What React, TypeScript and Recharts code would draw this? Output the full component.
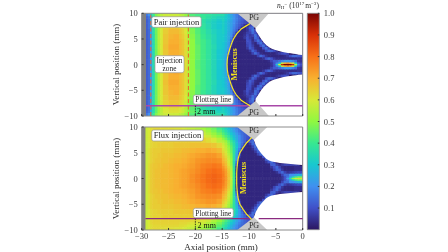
import React from "react";
import { ComposedChart, Scatter, Area, Line, XAxis, YAxis, ReferenceArea, ReferenceLine } from "recharts";

const W = 448, H = 252;
const LEFT = 141.7, RIGHT = 302.7;
const PANEL_A = { top: 13.3, bottom: 116 };
const PANEL_B = { top: 127, bottom: 230 };
const FONT = "'Liberation Serif', serif";

const xTicks = [-30, -25, -20, -15, -10, -5, 0];
const yTicks = [-10, -5, 0, 5, 10];
const barTicks = [0.1, 0.2, 0.3, 0.4, 0.5, 0.6, 0.7, 0.8, 0.9, 1.0];

const colorStops = ["#2c1660", "#4050c8", "#4090f0", "#18c8d0", "#38e890", "#90f840", "#d8e838", "#f8b030", "#f87018", "#d83008", "#7a0403"];

// cell edges (mm); the rows hold the upper half of each panel, the lower half mirrors it
const leftEdges = [-30, -29.2, -28.8, -28.4, -28, -27.5, -27, -26.5, -26, -25, -24, -23, -22.5, -22, -21.5, -21, -20, -19, -18, -17, -16, -15];
const leftRowEdges = [0, 1, 2, 3, 4, 5, 6, 7, 8, 8.5, 9, 9.5, 10];
const rightEdges = [-15, -14.5, -14, -13.5, -13, -12.5, -12, -11.5, -11, -10.5, -10, -9.5, -9, -8.5, -8, -7.5, -7, -6.5, -6, -5.5, -5, -4.5, -4, -3.5, -3, -2.5, -2, -1.5, -1, -0.5, 0];
const rightRowEdges = [0, 0.2, 0.5, 1, 1.5, 2, 2.5, 3, 3.5, 4, 4.5, 5, 5.5, 6, 6.5, 7, 7.5, 8, 8.5, 9, 9.5, 10];

const pairLeft = [
  [12, 12, 14, 22, 35, 46, 55, 60, 66, 70, 70, 68, 66, 62, 56, 50, 44, 41, 38, 34, 30],
  [12, 12, 14, 22, 35, 46, 55, 60, 66, 70, 71, 69, 66, 62, 56, 50, 45, 41, 38, 34, 30],
  [12, 12, 14, 22, 35, 46, 55, 60, 66, 70, 70, 68, 66, 62, 56, 50, 45, 41, 38, 34, 30],
  [12, 12, 14, 22, 35, 46, 55, 60, 67, 71, 71, 68, 66, 62, 56, 50, 45, 41, 38, 35, 31],
  [12, 12, 14, 23, 35, 46, 55, 60, 66, 70, 70, 68, 66, 62, 56, 50, 44, 41, 38, 34, 31],
  [12, 12, 14, 23, 35, 46, 55, 60, 66, 69, 70, 67, 65, 61, 55, 49, 44, 40, 37, 34, 31],
  [12, 12, 14, 23, 36, 46, 55, 60, 65, 68, 68, 66, 64, 60, 54, 48, 43, 39, 36, 33, 31],
  [12, 12, 15, 24, 36, 46, 54, 59, 64, 66, 66, 64, 62, 58, 52, 46, 42, 38, 35, 32, 30],
  [12, 12, 15, 24, 36, 45, 53, 57, 62, 64, 64, 62, 60, 56, 50, 45, 41, 37, 34, 32, 30],
  [12, 12, 15, 24, 36, 45, 52, 56, 60, 62, 62, 60, 58, 54, 49, 44, 41, 37, 35, 33, 31],
  [13, 13, 16, 25, 36, 45, 52, 56, 60, 61, 61, 60, 58, 54, 49, 45, 42, 39, 37, 35, 33],
  [15, 16, 20, 30, 40, 48, 53, 56, 58, 58, 58, 56, 54, 50, 46, 43, 41, 39, 38, 37, 36],
];
const pairRight = [
  [28, 22, 3, 3, 3, 3, 3, 3, 3, 3, 3, 3, 3, 3, 3, 3, 3, 3, 5, 10, 28, 60, 92, 100, 100, 100, 92, 55, 18, 10],
  [28, 22, 3, 3, 3, 3, 3, 3, 3, 3, 3, 3, 3, 3, 3, 3, 3, 3, 5, 10, 18, 32, 58, 70, 74, 70, 58, 30, 12, 8],
  [28, 22, 3, 3, 3, 3, 3, 3, 3, 3, 3, 3, 3, 3, 3, 3, 3, 4, 8, 12, 12, 15, 18, 21, 22, 21, 18, 14, 6, 5],
  [28, 23, 3, 3, 3, 3, 3, 3, 3, 3, 3, 3, 3, 3, 3, 5, 10, 14, 10, 6, 4, 4, 4, 4, 4, 4, 4, 4, 5, 5],
  [28, 24, 3, 3, 3, 3, 3, 3, 3, 3, 3, 3, 3, 8, 14, 10, 5, 3, 3, 3, 3, 3, 3, 4, 6, 10, 14, 14, 12, 10],
  [29, 25, 12, 3, 3, 3, 3, 3, 3, 3, 3, 8, 14, 9, 4, 3, 3, 3, 3, 3, 5, 7, 9, 10, 8, 0, 0, 0, 0, 0],
  [29, 26, 18, 3, 3, 3, 3, 3, 3, 3, 6, 13, 9, 4, 3, 3, 9, 14, 13, 9, 5, 0, 0, 0, 0, 0, 0, 0, 0, 0],
  [30, 26, 20, 3, 3, 3, 3, 3, 3, 6, 12, 9, 4, 3, 3, 10, 15, 8, 0, 0, 0, 0, 0, 0, 0, 0, 0, 0, 0, 0],
  [30, 27, 22, 5, 3, 3, 3, 3, 3, 8, 11, 7, 3, 3, 10, 15, 8, 0, 0, 0, 0, 0, 0, 0, 0, 0, 0, 0, 0, 0],
  [30, 27, 23, 10, 3, 3, 3, 3, 3, 9, 10, 5, 3, 10, 15, 8, 0, 0, 0, 0, 0, 0, 0, 0, 0, 0, 0, 0, 0, 0],
  [31, 28, 24, 14, 3, 3, 3, 3, 3, 10, 9, 4, 9, 15, 10, 0, 0, 0, 0, 0, 0, 0, 0, 0, 0, 0, 0, 0, 0, 0],
  [31, 28, 25, 18, 5, 3, 3, 3, 6, 10, 7, 5, 14, 11, 0, 0, 0, 0, 0, 0, 0, 0, 0, 0, 0, 0, 0, 0, 0, 0],
  [31, 28, 25, 20, 11, 3, 3, 3, 5, 9, 6, 8, 15, 8, 0, 0, 0, 0, 0, 0, 0, 0, 0, 0, 0, 0, 0, 0, 0, 0],
  [32, 29, 25, 21, 15, 6, 3, 3, 4, 7, 8, 14, 10, 0, 0, 0, 0, 0, 0, 0, 0, 0, 0, 0, 0, 0, 0, 0, 0, 0],
  [32, 29, 26, 22, 17, 12, 4, 3, 3, 5, 10, 16, 8, 0, 0, 0, 0, 0, 0, 0, 0, 0, 0, 0, 0, 0, 0, 0, 0, 0],
  [32, 29, 26, 22, 18, 14, 10, 4, 3, 6, 12, 14, 0, 0, 0, 0, 0, 0, 0, 0, 0, 0, 0, 0, 0, 0, 0, 0, 0, 0],
  [32, 29, 26, 23, 19, 15, 12, 9, 5, 3, 8, 10, 0, 0, 0, 0, 0, 0, 0, 0, 0, 0, 0, 0, 0, 0, 0, 0, 0, 0],
  [32, 29, 26, 23, 20, 16, 13, 11, 9, 8, 8, 9, 0, 0, 0, 0, 0, 0, 0, 0, 0, 0, 0, 0, 0, 0, 0, 0, 0, 0],
  [33, 30, 27, 24, 20, 17, 14, 12, 10, 9, 9, 9, 0, 0, 0, 0, 0, 0, 0, 0, 0, 0, 0, 0, 0, 0, 0, 0, 0, 0],
  [33, 31, 28, 24, 21, 17, 14, 12, 10, 10, 10, 10, 0, 0, 0, 0, 0, 0, 0, 0, 0, 0, 0, 0, 0, 0, 0, 0, 0, 0],
  [36, 32, 28, 24, 20, 17, 14, 12, 10, 10, 10, 10, 0, 0, 0, 0, 0, 0, 0, 0, 0, 0, 0, 0, 0, 0, 0, 0, 0, 0],
];
const fluxLeft = [
  [58, 58, 62, 65, 66, 67, 67, 68, 68, 69, 70, 71, 72, 72, 73, 75, 77, 79, 81, 82, 81],
  [58, 58, 62, 65, 66, 67, 67, 68, 68, 69, 70, 71, 72, 72, 73, 74, 76, 78, 80, 81, 80],
  [58, 58, 62, 65, 66, 66, 67, 67, 68, 69, 70, 70, 71, 71, 72, 73, 75, 77, 78, 79, 78],
  [58, 58, 61, 64, 65, 66, 66, 67, 67, 68, 69, 69, 70, 70, 71, 72, 74, 75, 76, 76, 75],
  [58, 58, 61, 64, 65, 65, 66, 66, 67, 67, 68, 68, 69, 69, 70, 71, 72, 73, 74, 74, 72],
  [58, 58, 61, 64, 65, 65, 65, 66, 66, 66, 67, 67, 68, 68, 68, 69, 70, 70, 71, 70, 68],
  [58, 58, 60, 63, 64, 64, 65, 65, 65, 65, 66, 66, 66, 66, 66, 67, 67, 67, 67, 66, 63],
  [58, 58, 60, 63, 64, 64, 64, 64, 65, 65, 65, 65, 65, 65, 65, 65, 65, 64, 62, 60, 56],
  [58, 58, 60, 63, 64, 64, 64, 64, 64, 64, 64, 64, 64, 64, 64, 63, 62, 60, 58, 54, 50],
  [58, 58, 60, 63, 64, 64, 64, 64, 64, 64, 64, 63, 63, 63, 62, 61, 60, 58, 55, 51, 47],
  [58, 58, 60, 62, 63, 63, 63, 63, 63, 63, 63, 62, 62, 61, 60, 59, 57, 55, 52, 48, 44],
  [58, 58, 60, 62, 63, 63, 63, 62, 62, 62, 61, 61, 60, 59, 58, 57, 55, 52, 49, 46, 41],
];
const fluxRight = [
  [78, 74, 67, 57, 40, 4, 3, 3, 3, 3, 3, 3, 3, 3, 3, 3, 3, 3, 3, 3, 3, 3, 5, 10, 20, 34, 50, 58, 62, 62],
  [78, 74, 67, 57, 40, 4, 3, 3, 3, 3, 3, 3, 3, 3, 3, 3, 3, 3, 3, 3, 3, 3, 5, 10, 16, 24, 34, 42, 46, 46],
  [78, 73, 67, 56, 40, 4, 3, 3, 3, 3, 3, 3, 3, 3, 3, 3, 3, 3, 3, 3, 3, 3, 8, 14, 14, 20, 20, 23, 26, 26],
  [77, 73, 66, 56, 39, 3, 3, 3, 3, 3, 3, 3, 3, 3, 3, 3, 3, 3, 3, 3, 5, 10, 14, 8, 5, 6, 7, 8, 9, 9],
  [76, 72, 65, 55, 38, 3, 3, 3, 3, 3, 3, 3, 3, 3, 3, 3, 3, 3, 3, 8, 13, 12, 6, 3, 3, 3, 3, 4, 4, 4],
  [74, 70, 63, 54, 37, 5, 3, 3, 3, 3, 3, 3, 3, 3, 3, 3, 3, 3, 6, 10, 14, 8, 4, 3, 3, 3, 3, 4, 4, 4],
  [72, 68, 61, 52, 36, 10, 3, 3, 3, 3, 3, 3, 3, 3, 3, 3, 3, 3, 12, 13, 7, 4, 6, 8, 8, 8, 7, 7, 6, 0],
  [70, 66, 59, 51, 36, 16, 3, 3, 3, 3, 3, 3, 3, 3, 3, 3, 6, 11, 14, 9, 0, 0, 0, 0, 0, 0, 0, 0, 0, 0],
  [69, 65, 58, 50, 37, 20, 3, 3, 3, 3, 3, 3, 3, 3, 3, 3, 12, 15, 0, 0, 0, 0, 0, 0, 0, 0, 0, 0, 0, 0],
  [67, 63, 57, 49, 37, 22, 6, 3, 3, 3, 3, 3, 3, 3, 3, 10, 15, 0, 0, 0, 0, 0, 0, 0, 0, 0, 0, 0, 0, 0],
  [65, 61, 55, 48, 37, 24, 10, 3, 3, 3, 3, 3, 3, 8, 14, 14, 0, 0, 0, 0, 0, 0, 0, 0, 0, 0, 0, 0, 0, 0],
  [63, 59, 53, 46, 37, 26, 14, 3, 3, 3, 3, 3, 6, 13, 13, 0, 0, 0, 0, 0, 0, 0, 0, 0, 0, 0, 0, 0, 0, 0],
  [61, 57, 52, 45, 37, 28, 18, 6, 3, 3, 3, 5, 11, 15, 0, 0, 0, 0, 0, 0, 0, 0, 0, 0, 0, 0, 0, 0, 0, 0],
  [60, 56, 50, 44, 37, 30, 22, 12, 3, 3, 3, 8, 15, 0, 0, 0, 0, 0, 0, 0, 0, 0, 0, 0, 0, 0, 0, 0, 0, 0],
  [58, 54, 48, 42, 36, 29, 22, 15, 8, 3, 6, 14, 12, 0, 0, 0, 0, 0, 0, 0, 0, 0, 0, 0, 0, 0, 0, 0, 0, 0],
  [55, 51, 46, 40, 34, 27, 20, 16, 12, 6, 11, 14, 0, 0, 0, 0, 0, 0, 0, 0, 0, 0, 0, 0, 0, 0, 0, 0, 0, 0],
  [50, 46, 41, 36, 30, 25, 20, 16, 13, 10, 8, 10, 0, 0, 0, 0, 0, 0, 0, 0, 0, 0, 0, 0, 0, 0, 0, 0, 0, 0],
  [46, 42, 38, 33, 28, 24, 20, 16, 13, 11, 10, 11, 0, 0, 0, 0, 0, 0, 0, 0, 0, 0, 0, 0, 0, 0, 0, 0, 0, 0],
  [43, 39, 35, 30, 26, 22, 18, 15, 13, 11, 11, 11, 0, 0, 0, 0, 0, 0, 0, 0, 0, 0, 0, 0, 0, 0, 0, 0, 0, 0],
  [40, 36, 32, 27, 23, 19, 16, 14, 12, 11, 11, 11, 0, 0, 0, 0, 0, 0, 0, 0, 0, 0, 0, 0, 0, 0, 0, 0, 0, 0],
  [37, 33, 29, 25, 21, 18, 15, 13, 12, 11, 11, 11, 0, 0, 0, 0, 0, 0, 0, 0, 0, 0, 0, 0, 0, 0, 0, 0, 0, 0],
];

const pairWallX = [-8.8, -8.75, -8.25, -7.75, -7.25, -6.75, -6.25, -5.75, -5.25, -4.75, -4.25, -3.75, -3.25, -2.75, -2.25, -1.75, -1.25, -0.75, 0];
const pairWallY = [7.1, 6.6, 5.8, 5, 4.3, 3.8, 3.4, 3.1, 2.9, 2.75, 2.6, 2.45, 2.35, 2.25, 2.2, 2.1, 2.05, 1.95, 1.9];
const fluxWallX = [-9.1, -8.75, -8.25, -7.75, -7.25, -6.75, -6.25, -5.75, -5.25, -4.75, -4.25, -3.75, -3.25, -2.75, -2.25, -1.75, -1.25, -0.75, 0];
const fluxWallY = [7.5, 6.5, 5.6, 4.9, 4.3, 3.8, 3.5, 3.3, 3.2, 3.1, 3, 2.95, 2.9, 2.85, 2.8, 2.75, 2.7, 2.65, 2.6];

const pairMeniscusX = [-9.8, -10.6, -11.4, -12.3, -12.9, -13.3, -13.6, -13.9, -14.05, -14.1];
const fluxMeniscusX = [-9.5, -9.9, -10.4, -11.1, -11.7, -12, -12.15, -12.25, -12.3, -12.3];
const meniscusY = [8, 7.5, 7, 6, 5, 4, 3, 2, 1, 0];

const pairGuardX = [-12.2, -8.8, -6.3];
const pairGuardY = [10, 7.1, 10];
const fluxGuardX = [-12.2, -9.1, -6.6];
const fluxGuardY = [10, 7.5, 10];

const pairLineY = -8;
const fluxLineY = -7.8;
const pairLineX = [-29.2, -9.85, -8.0, 0];
const fluxLineX = [-29.3, -9.7, -8.2, 0];
const dashedInjectionX = [-28.3, -21.3];
const gapX = -20;

const PX_X = (RIGHT - LEFT) / 30;
const PX_Y = (PANEL_A.bottom - PANEL_A.top) / 20;

function colorOf(v: number) {
  const t = Math.max(0, Math.min(1, v)) * (colorStops.length - 1);
  const i = Math.min(colorStops.length - 2, Math.floor(t));
  const f = t - i;
  const hex = (s: string, k: number) => parseInt(s.slice(1 + 2 * k, 3 + 2 * k), 16);
  const c = [0, 1, 2].map((k) => Math.round(hex(colorStops[i], k) * (1 - f) + hex(colorStops[i + 1], k) * f));
  return `rgb(${c[0]},${c[1]},${c[2]})`;
}

function buildCells(xe: number[], ye: number[], rows: number[][]) {
  const out: any[] = [];
  rows.forEach((row, r) => {
    row.forEach((val, c) => {
      const x = (xe[c] + xe[c + 1]) / 2;
      const y = (ye[r] + ye[r + 1]) / 2;
      const w = xe[c + 1] - xe[c];
      const h = ye[r + 1] - ye[r];
      out.push({ x, y, w, h, v: val / 100 });
      out.push({ x, y: -y, w, h, v: val / 100 });
    });
  });
  return out;
}

const CellShape = (props: any) => {
  const { cx, cy, payload } = props;
  const w = payload.w * PX_X;
  const h = payload.h * PX_Y;
  return <rect x={cx - w / 2 - 0.3} y={cy - h / 2 - 0.3} width={w + 0.6} height={h + 0.6} fill={colorOf(payload.v)} />;
};

const minus = (v: number) => String(v).replace("-", "\u2212");
const tickStyle = { fontFamily: FONT, fontSize: 8.5, fill: "#3a3a3a" };

function HeatChart({ panel, cells }: any) {
  return (
    <div style={{ position: "absolute", left: 0, top: 0, filter: "blur(0.7px)", clipPath: `inset(${panel.top}px ${W - RIGHT}px ${H - panel.bottom}px ${LEFT}px)` }}>
      <ComposedChart width={W} height={H} margin={{ top: panel.top, bottom: H - panel.bottom, left: LEFT, right: W - RIGHT }}>
        <XAxis dataKey="x" type="number" domain={[-30, 0]} hide />
        <YAxis dataKey="y" type="number" domain={[-10, 10]} hide />
        <Scatter data={cells} shape={CellShape} isAnimationActive={false} />
      </ComposedChart>
    </div>
  );
}

function AxisChart({ panel, showX }: any) {
  return (
    <div style={{ position: "absolute", left: 0, top: 0 }}>
      <ComposedChart width={W} height={H} data={xTicks.map((x) => ({ x, y: 0 }))} margin={{ top: panel.top, bottom: H - panel.bottom - 20, left: LEFT - 30, right: W - RIGHT }}>
        <XAxis dataKey="x" type="number" domain={[-30, 0]} ticks={xTicks} height={20} axisLine={false}
          tickFormatter={(v: number) => (showX ? minus(v) : "")} tick={tickStyle} tickLine={{ stroke: "#333" }} tickSize={-2} tickMargin={5} interval={0} />
        <YAxis dataKey="y" type="number" domain={[-10, 10]} ticks={yTicks} width={30} axisLine={false}
          tickFormatter={minus} tick={tickStyle} tickLine={{ stroke: "#333" }} tickSize={-2} tickMargin={6} interval={0} />
      </ComposedChart>
    </div>
  );
}

function pairs(xs: number[], ys: number[], f: (y: number) => any) {
  return xs.map((x, i) => ({ x, range: f(ys[i]) }));
}

function OverlayChart({ panel, wallX, wallY, guardX, guardY, menX, lineY, lineX, lineColor, lineWidth, wallEdge, dashed }: any) {
  const men = [
    ...menX.map((x: number, i: number) => ({ x, y: meniscusY[i] })),
    ...menX.slice(0, -1).reverse().map((x: number, i: number) => ({ x, y: -meniscusY[menX.length - 2 - i] })),
  ];
  return (
    <div style={{ position: "absolute", left: 0, top: 0 }}>
      <ComposedChart width={W} height={H} margin={{ top: panel.top, bottom: H - panel.bottom, left: LEFT, right: W - RIGHT }}>
        <XAxis dataKey="x" type="number" domain={[-30, 0]} hide allowDataOverflow />
        <YAxis type="number" domain={[-10, 10]} hide allowDataOverflow />
        <ReferenceArea x1={-30} x2={wallEdge} y1={-10} y2={10} fill="#808080" fillOpacity={1} stroke="none" />
        <Area data={pairs(wallX, wallY, (y) => [y, 10])} dataKey="range" type="linear" fill="#ffffff" fillOpacity={1} stroke="none" isAnimationActive={false} dot={false} activeDot={false} />
        <Area data={pairs(wallX, wallY, (y) => [-10, -y])} dataKey="range" type="linear" fill="#ffffff" fillOpacity={1} stroke="none" isAnimationActive={false} dot={false} activeDot={false} />
        <Area data={pairs(guardX, guardY, (y) => [y, 10])} dataKey="range" type="linear" fill="#c8c8c8" fillOpacity={1} stroke="none" isAnimationActive={false} dot={false} activeDot={false} />
        <Area data={pairs(guardX, guardY, (y) => [-10, -y])} dataKey="range" type="linear" fill="#c8c8c8" fillOpacity={1} stroke="none" isAnimationActive={false} dot={false} activeDot={false} />
        {dashed.map((x: number) => (
          <ReferenceLine key={x} x={x} stroke="#f0602a" strokeWidth={1} strokeDasharray="4 2.5" />
        ))}
        <ReferenceLine segment={[{ x: lineX[0], y: lineY }, { x: lineX[1], y: lineY }]} stroke={lineColor} strokeWidth={lineWidth} />
        <ReferenceLine segment={[{ x: lineX[2], y: lineY }, { x: lineX[3], y: lineY }]} stroke={lineColor} strokeWidth={lineWidth} />
        <ReferenceLine segment={[{ x: gapX, y: lineY }, { x: gapX, y: -10 }]} stroke="#111" strokeWidth={0.8} strokeDasharray="1.5 1" />
        <Line data={men} dataKey="y" type="linear" stroke="#f8e620" strokeWidth={1.2} dot={false} activeDot={false} isAnimationActive={false} />
        <ReferenceArea x1={-30} x2={0} y1={-10} y2={10} fill="none" stroke="#8c8c8c" strokeWidth={1} />
      </ComposedChart>
    </div>
  );
}

function ColorBar() {
  return (
    <div style={{ position: "absolute", left: 0, top: 0 }}>
      <ComposedChart width={W} height={H} data={barTicks.map((y) => ({ x: 0, y }))} margin={{ top: 13.3, bottom: H - 229.7, left: 307.3, right: W - 319.3 - 30 }}>
        <XAxis dataKey="x" type="number" domain={[0, 1]} hide />
        <YAxis dataKey="y" orientation="right" type="number" domain={[0, 1]} ticks={barTicks} width={30} axisLine={false} interval={0}
          tickFormatter={(v: number) => v.toFixed(1)} tick={tickStyle} tickLine={{ stroke: "#333" }} tickSize={-1.5} tickMargin={6} />
        <ReferenceArea x1={0} x2={1} y1={0} y2={1} fill="url(#cbGrad)" fillOpacity={1} stroke="#8c8c8c" strokeWidth={0.8} />
      </ComposedChart>
    </div>
  );
}

function Box({ x, y, w, h, lines, size = 7.5 }: any) {
  return (
    <g>
      <rect x={x} y={y} width={w} height={h} rx={2} fill="#fff" stroke="#9a9a9a" strokeWidth={0.7} />
      {lines.map((s: string, i: number) => (
        <text key={s} x={x + w / 2} y={y + h / 2 + 2.5 + (i - (lines.length - 1) / 2) * 8} textAnchor="middle" fontFamily={FONT} fontSize={size} fill="#222">{s}</text>
      ))}
    </g>
  );
}

function Txt({ x, y, children, rot, size = 8, fill = "#2a2a2a", anchor = "middle", weight }: any) {
  return (
    <text x={x} y={y} textAnchor={anchor} fontFamily={FONT} fontSize={size} fill={fill} fontWeight={weight}
      transform={rot ? `rotate(${rot} ${x} ${y})` : undefined}>{children}</text>
  );
}

function Annotations() {
  return (
    <svg width={W} height={H} style={{ position: "absolute", left: 0, top: 0 }}>
      <defs>
        <linearGradient id="cbGrad" x1="0" y1="1" x2="0" y2="0">
          {colorStops.map((c, i) => (
            <stop key={i} offset={i / (colorStops.length - 1)} stopColor={c} />
          ))}
        </linearGradient>
      </defs>
      <Box x={151.7} y={16.7} w={49.5} h={10.6} lines={["Pair injection"]} size={8.5} />
      <Box x={155} y={55.7} w={29} h={17} lines={["Injection", "zone"]} size={7.3} />
      <Box x={193.3} y={95} w={40} h={9.2} lines={["Plotting line"]} size={7.3} />
      <Txt x={197} y={114} size={8} anchor="start" fill="#111">2 mm</Txt>
      <Txt x={254} y={20} size={8}>PG</Txt>
      <Txt x={254} y={115} size={8}>PG</Txt>
      <Txt x={237} y={64.5} rot={-90} size={8} fill="#f4e41c" weight="bold">Meniscus</Txt>

      <Box x={151.7} y={130} w={51.6} h={11} lines={["Flux injection"]} size={8.5} />
      <Box x={193.3} y={208.3} w={40} h={9.4} lines={["Plotting line"]} size={7.3} />
      <Txt x={197.5} y={227.5} size={8} anchor="start" fill="#111">2 mm</Txt>
      <Txt x={254} y={133.3} size={8}>PG</Txt>
      <Txt x={254} y={228} size={8}>PG</Txt>
      <Txt x={245.5} y={178} rot={-90} size={8} fill="#f4e41c" weight="bold">Meniscus</Txt>

      <Txt x={119} y={64.5} rot={-90} size={9}>Vertical position (mm)</Txt>
      <Txt x={119} y={178.5} rot={-90} size={9}>Vertical position (mm)</Txt>
      <Txt x={221} y={249.5} size={9}>Axial position (mm)</Txt>
      <text x={277} y={7.5} fontFamily={FONT} fontSize={7.5} fill="#2a2a2a"><tspan fontStyle="italic">n</tspan><tspan fontSize={5} dy={1.5}>H</tspan><tspan fontSize={5} dy={-3.5}>−</tspan><tspan dy={2} dx={2}>(10</tspan><tspan fontSize={5} dy={-2.5}>17</tspan><tspan dy={2.5} dx={1}>m</tspan><tspan fontSize={5} dy={-2.5}>−3</tspan><tspan dy={2.5}>)</tspan></text>
    </svg>
  );
}

const pairCells = [...buildCells(leftEdges, leftRowEdges, pairLeft), ...buildCells(rightEdges, rightRowEdges, pairRight)];
const fluxCells = [...buildCells(leftEdges, leftRowEdges, fluxLeft), ...buildCells(rightEdges, rightRowEdges, fluxRight)];

export default function App() {
  return (
    <div style={{ position: "fixed", left: 0, top: 0, width: W, height: H, overflow: "hidden", background: "#fff", filter: "blur(0.25px)" }}>
      <HeatChart panel={PANEL_A} cells={pairCells} />
      <HeatChart panel={PANEL_B} cells={fluxCells} />
      <OverlayChart panel={PANEL_A} wallX={pairWallX} wallY={pairWallY} guardX={pairGuardX} guardY={pairGuardY} menX={pairMeniscusX}
        lineY={pairLineY} lineX={pairLineX} lineColor="#a848a8" lineWidth={1.5} wallEdge={-29.2} dashed={dashedInjectionX} />
      <OverlayChart panel={PANEL_B} wallX={fluxWallX} wallY={fluxWallY} guardX={fluxGuardX} guardY={fluxGuardY} menX={fluxMeniscusX}
        lineY={fluxLineY} lineX={fluxLineX} lineColor="#8a2a80" lineWidth={1.2} wallEdge={-29.3} dashed={[]} />
      <AxisChart panel={PANEL_A} showX={false} />
      <AxisChart panel={PANEL_B} showX={true} />
      <ColorBar />
      <Annotations />
    </div>
  );
}
